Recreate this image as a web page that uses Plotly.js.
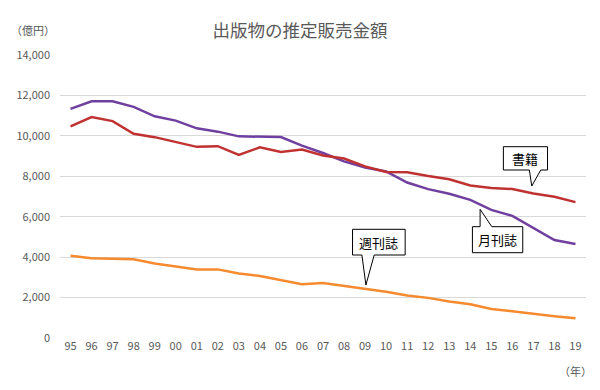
<!DOCTYPE html>
<html>
<head>
<meta charset="utf-8">
<script src="https://cdn.plot.ly/plotly-3.0.1.min.js"></script>
<style>html,body{margin:0;padding:0;background:#fff;}#chart{width:600px;height:390px;}</style>
</head>
<body>
<div id="chart"></div>
<script>
var years = ["95","96","97","98","99","00","01","02","03","04","05","06","07","08","09","10","11","12","13","14","15","16","17","18","19"];
var books = [10470,10931,10730,10100,9936,9706,9456,9490,9056,9429,9197,9326,9026,8878,8492,8213,8199,8013,7851,7544,7419,7370,7152,6991,6723];
var monthly = [11335,11712,11712,11434,10968,10754,10372,10208,9975,9950,9940,9514,9150,8735,8437,8238,7692,7365,7132,6834,6338,6040,5429,4849,4650];
var weekly = [4070,3940,3925,3890,3690,3524,3394,3394,3195,3062,2864,2665,2715,2566,2450,2283,2104,1985,1806,1672,1439,1310,1176,1077,978];
var yTicks = [0,2000,4000,6000,8000,10000,12000,14000];
var yTickText = ["0","2,000","4,000","6,000","8,000","10,000","12,000","14,000"];

var F = "'Noto Sans CJK JP', 'Noto Sans', sans-serif";
var W = 600, H = 390, mL = 59.5, mR = 14, mT = 55, mB = 52;
var plotW = W - mL - mR, plotH = H - mT - mB;
function X(px){ return -0.5 + (px - mL) / plotW * 25; }
function Y(py){ return (H - mB - py) / plotH * 14000; }
function calloutPath(box, tail, down){
  var x0=box[0], x1=box[1], y0=box[2], y1=box[3];
  var p = [];
  if (down) {
    p = [[x0,y0],[x1,y0],[x1,y1],[tail[1],y1],[tail[2],tail[3]],[tail[0],y1],[x0,y1]];
  } else {
    p = [[x0,y0],[tail[0],y0],[tail[2],tail[3]],[tail[1],y0],[x1,y0],[x1,y1],[x0,y1]];
  }
  return 'M' + p.map(function(q){ return X(q[0]).toFixed(4) + ',' + Y(q[1]).toFixed(2); }).join(' L') + ' Z';
}
var callouts = [
  {text:"書籍", box:[503.3,547.5,146.7,170], tail:[529.3,540.7,531.7,186], down:true},
  {text:"月刊誌", box:[472.3,522.7,226.7,252.7], tail:[480,491.7,480,209.3], down:false},
  {text:"週刊誌", box:[352.3,405,229.3,255], tail:[361.7,374,365.7,285], down:true}
];

var traces = [
  {x: years, y: weekly, name: "週刊誌", type: "scatter", mode: "lines", line: {color: "#f58a2e", width: 2.5}},
  {x: years, y: monthly, name: "月刊誌", type: "scatter", mode: "lines", line: {color: "#7040a0", width: 2.5}},
  {x: years, y: books, name: "書籍", type: "scatter", mode: "lines", line: {color: "#c03232", width: 2.5}}
];

var shapes = callouts.map(function(c){
  return {type: "path", xref: "x", yref: "y", path: calloutPath(c.box, c.tail, c.down),
          fillcolor: "#ffffff", line: {color: "#000000", width: 1}, layer: "above"};
});
var annotations = callouts.map(function(c){
  return {xref: "x", yref: "y", x: X((c.box[0]+c.box[1])/2), y: Y((c.box[2]+c.box[3])/2),
          text: c.text, showarrow: false, font: {family: F, size: 13, color: "#000"},
          xanchor: "center", yanchor: "middle"};
});
annotations.push({xref: "paper", yref: "paper", x: -0.097, y: 1.089, xanchor: "left", yanchor: "middle",
  text: "（億円）", showarrow: false, font: {family: F, size: 11, color: "#595959"}});
annotations.push({xref: "paper", yref: "paper", x: 1.015, y: -0.115, xanchor: "right", yanchor: "middle",
  text: "（年）", showarrow: false, font: {family: F, size: 11, color: "#595959"}});

var layout = {
  width: W, height: H,
  margin: {l: mL, r: mR, t: mT, b: mB, pad: 0},
  paper_bgcolor: "#fff", plot_bgcolor: "#fff",
  showlegend: false,
  hovermode: false,
  title: {text: "出版物の推定販売金額", font: {family: F, size: 17.5, color: "#595959"}, x: 0.5, xanchor: "center", y: 0.922, yanchor: "middle"},
  xaxis: {type: "category", range: [-0.5, 24.5], showgrid: false, zeroline: false, showline: false,
          ticks: "", tickfont: {family: F, size: 11, color: "#595959"}, fixedrange: true},
  yaxis: {range: [0, 14000], tickvals: yTicks, ticktext: yTickText, showgrid: true, gridcolor: "#d9d9d9", gridwidth: 1,
          zeroline: false, showline: false, ticks: "", ticklabelstandoff: 9,
          tickfont: {family: F, size: 11, color: "#595959"}, fixedrange: true},
  shapes: shapes,
  annotations: annotations
};
Plotly.newPlot("chart", traces, layout, {staticPlot: true, displayModeBar: false});
</script>
</body>
</html>
